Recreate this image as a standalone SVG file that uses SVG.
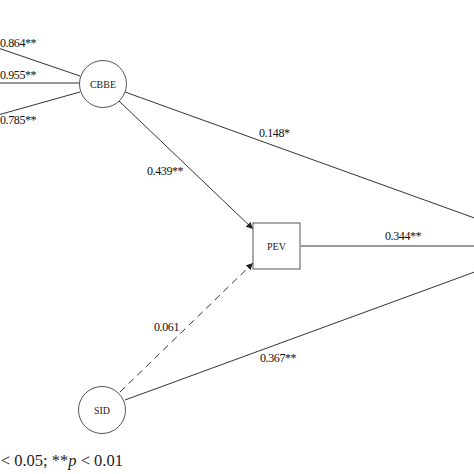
<svg xmlns="http://www.w3.org/2000/svg" width="474" height="474" viewBox="0 0 474 474">
<defs>
<marker id="arr" viewBox="0 0 10 10" refX="10" refY="5" markerWidth="7" markerHeight="7" markerUnits="userSpaceOnUse" orient="auto">
<path d="M0,0 L10,5 L0,10 z" fill="#222"/>
</marker>
<style>
.node{fill:#fff;stroke:#555;stroke-width:1}
.lbl{font-family:"Liberation Serif","Times New Roman",serif;font-size:10px;fill:#222;text-anchor:middle}
.coef{font-family:"Liberation Serif","Times New Roman",serif;font-size:12px;fill:#111;letter-spacing:-0.4px}
.ln{stroke:#333;stroke-width:1;fill:none}
.dash{stroke:#333;stroke-width:1;fill:none;stroke-dasharray:7,5}
</style>
</defs>
<rect width="474" height="474" fill="#fff"/>
<g id="connectors">
<line class="ln" x1="-2" y1="48" x2="80" y2="76"/>
<line class="ln" x1="-2" y1="83" x2="79" y2="83"/>
<line class="ln" x1="-2" y1="115" x2="80" y2="92"/>
<line class="ln" x1="125" y1="92" x2="480" y2="220"/>
<line class="ln" x1="119" y1="101" x2="253" y2="229" marker-end="url(#arr)"/>
<line class="dash" x1="120" y1="392" x2="253" y2="263" marker-end="url(#arr)"/>
<line class="ln" x1="301" y1="246" x2="480" y2="246"/>
<line class="ln" x1="125" y1="400" x2="480" y2="270"/>
</g>
<g id="coefs">
<text class="coef" x="0" y="47">0.864**</text>
<text class="coef" x="0" y="79">0.955**</text>
<text class="coef" x="0" y="124">0.785**</text>
<text class="coef" x="259" y="137">0.148*</text>
<text class="coef" x="147" y="175">0.439**</text>
<text class="coef" x="385" y="240">0.344**</text>
<text class="coef" x="154" y="331">0.061</text>
<text class="coef" x="260" y="362">0.367**</text>
</g>
<g id="CBBE">
<circle class="node" cx="103" cy="84" r="23.5"/>
<text class="lbl" x="103" y="87.5">CBBE</text>
</g>
<g id="PEV">
<rect class="node" x="253" y="223" width="47" height="46"/>
<text class="lbl" x="276.5" y="249.5">PEV</text>
</g>
<g id="SID">
<circle class="node" cx="102" cy="410" r="23.5"/>
<text class="lbl" x="102" y="413.5">SID</text>
</g>
<text x="123" y="466" font-family="Liberation Serif, Times New Roman, serif" font-size="16.5" fill="#222" text-anchor="end">*<tspan font-style="italic">p</tspan> &lt; 0.05; **<tspan font-style="italic">p</tspan> &lt; 0.01</text>
</svg>
